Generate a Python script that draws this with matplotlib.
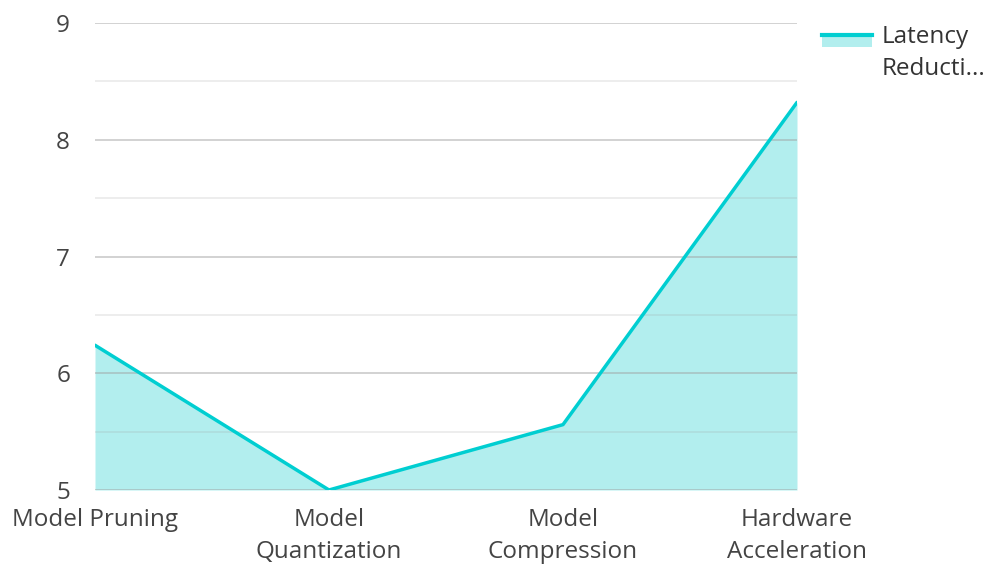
import matplotlib.pyplot as plt
from matplotlib.patches import Rectangle
from matplotlib.lines import Line2D

plt.rcParams['font.family'] = ['Open Sans', 'DejaVu Sans']

categories = ["Model Pruning", "Model\nQuantization", "Model\nCompression", "Hardware\nAcceleration"]
latency = [6.24, 5.0, 5.56, 8.32]
series_name = "Latency\nReducti..."

line_color = "#00CED1"
fill_color = "#b2eeee"

fig = plt.figure(figsize=(9.89, 5.64), dpi=100)
ax = fig.add_axes([95 / 989, 1 - 490 / 564, (797 - 95) / 989, (490 - 23) / 564])

x = list(range(len(categories)))
ax.fill_between(x, latency, 5, color=fill_color, lw=0, zorder=1)
ax.plot(x, latency, color=line_color, lw=2.5, zorder=4, solid_capstyle='round')

ax.set_xlim(0, len(categories) - 1)
ax.set_ylim(5, 9)
ax.set_yticks([5, 6, 7, 8, 9])
ax.set_yticks([5.5, 6.5, 7.5, 8.5], minor=True)
ax.grid(True, which='major', axis='y', color='#a0a0a0', alpha=0.55, lw=1.2, zorder=2)
ax.grid(True, which='minor', axis='y', color='#a0a0a0', alpha=0.22, lw=1.2, zorder=2)
ax.set_axisbelow(False)
for s in ax.spines.values():
    s.set_visible(False)
ax.tick_params(axis='both', which='both', length=0, labelsize=17.5, labelcolor='#444444')
ax.tick_params(axis='y', pad=18)
ax.tick_params(axis='x', pad=13)
ax.set_xticks(x)
ax.set_xticklabels(categories, linespacing=1.42)

# legend
fig.add_artist(Rectangle((822 / 989, 1 - 47 / 564), 50 / 989, 12 / 564,
                         transform=fig.transFigure, color=fill_color, lw=0))
fig.add_artist(Line2D([822 / 989, 872 / 989], [1 - 35 / 564, 1 - 35 / 564],
                      transform=fig.transFigure, color=line_color, lw=3))
fig.text(882 / 989, 1 - 53 / 564, series_name, fontsize=17.5, color='#333333',
         va='center', ha='left', linespacing=1.42)

fig.savefig("out.png", dpi=100)
